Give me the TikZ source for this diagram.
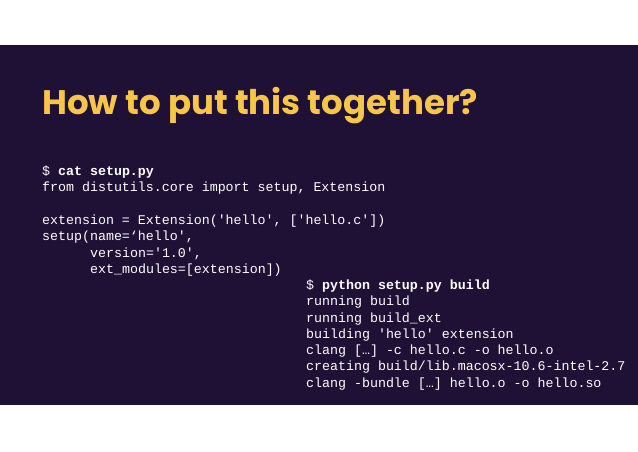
\documentclass[tikz,border=0pt]{standalone}
\usepackage{fontspec}
\setmainfont{Liberation Mono}
\newfontfamily\titlefont{Poppins}
\definecolor{bandbg}{HTML}{1F1035}
\definecolor{titleyel}{HTML}{F7C548}
\newcommand{\qq}{\textquotesingle}
\begin{document}
\begin{tikzpicture}[x=1pt,y=-1pt,
  code/.style={anchor=base west,inner sep=0pt,text=white,font=\fontsize{13.3}{16}\selectfont},
  ttl/.style={anchor=base west,inner sep=0pt,text=titleyel,font=\titlefont\bfseries\fontsize{34}{40}\selectfont}]
\useasboundingbox[fill=white] (0,0) rectangle (638,451);
\fill[bandbg] (0,45) rectangle (638,405);
\node[ttl] (t) at (42,114) {How to put this together?};
\node[code] (l1) at (42,175) {\$ \textbf{cat setup.py}};
\node[code] (l2) at (42,191) {from distutils.core import setup, Extension};
\node[code] (l3) at (42,224) {extension = Extension(\qq hello\qq, [\qq hello.c\qq])};
\node[code] (l4) at (42,240) {setup(name=‘hello\qq,};
\node[code] (l5) at (90,257) {version=\qq 1.0\qq,};
\node[code] (l6) at (90,273) {ext\_modules=[extension])};
\node[code] (r1) at (306,289) {\$ \textbf{python setup.py build}};
\node[code] (r2) at (306,305) {running build};
\node[code] (r3) at (306,322) {running build\_ext};
\node[code] (r4) at (306,338) {building \qq hello\qq\ extension};
\node[code] (r5) at (306,354) {clang […] -c hello.c -o hello.o};
\node[code] (r6) at (306,370) {creating build/lib.macosx-10.6-intel-2.7};
\node[code] (r7) at (306,387) {clang -bundle […] hello.o -o hello.so};
\end{tikzpicture}
\end{document}
